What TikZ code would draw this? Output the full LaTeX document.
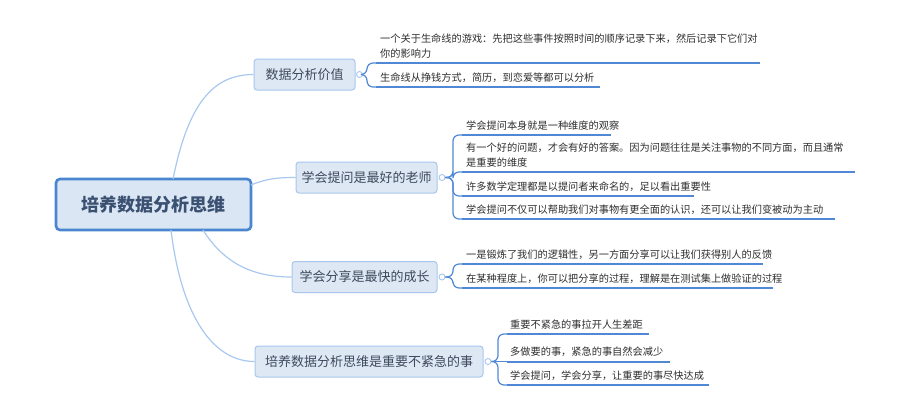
\documentclass[tikz,border=0pt]{standalone}
\usepackage{fontspec}
\newfontfamily\cjk{Noto Sans CJK SC}
\definecolor{rootline}{HTML}{4A86D0}
\definecolor{rootfill}{HTML}{DBE6F4}
\definecolor{brline}{HTML}{A8C6EC}
\definecolor{brfill}{HTML}{DEE8F5}
\definecolor{brtext}{HTML}{3E4A5C}
\definecolor{roottext}{HTML}{3B5172}
\definecolor{leafline}{HTML}{5088D6}
\definecolor{linkline}{HTML}{A9C8EF}
\definecolor{leaftext}{HTML}{2E2E2E}
\tikzset{
  rootbox/.style={draw=rootline, line width=2.6pt, fill=rootfill, rounded corners=4pt,
    minimum width=195pt, minimum height=51pt, inner sep=0pt, text=roottext,
    font=\cjk\fontsize{18}{20}\selectfont\bfseries},
  brbox/.style={draw=brline, line width=1pt, fill=brfill, rounded corners=3pt,
    minimum height=31pt, inner sep=0pt, text=brtext, font=\cjk\fontsize{13}{15}\selectfont},
  knob/.style={circle, draw=brline, fill=white, line width=0.9pt, minimum size=6pt, inner sep=0pt},
  leaf/.style={anchor=north west, inner sep=0pt, align=left, text=leaftext,
    font=\cjk\fontsize{10.2}{15}\selectfont},
  link/.style={draw=linkline, line width=1.2pt},
  bracket/.style={draw=leafline, line width=1.2pt, rounded corners=6pt},
  uline/.style={draw=leafline, line width=2pt},
}
\begin{document}
\begin{tikzpicture}[x=1pt,y=-1pt]
\useasboundingbox (0,0) rectangle (924,416);
% root and branches
\node[rootbox] (root) at (153.5,204.5) {培养数据分析思维};
\node[brbox, minimum width=101pt] (b1) at (304.5,74.5) {数据分析价值};
\node[brbox, minimum width=141pt] (b2) at (366.5,177.5) {学会提问是最好的老师};
\node[brbox, minimum width=145pt] (b3) at (364.5,277) {学会分享是最快的成长};
\node[brbox, minimum width=228pt] (b4) at (369,361.5) {培养数据分析思维是重要不紧急的事};
% root links
\coordinate (r1) at (173,179);
\coordinate (r2) at (251,185);
\coordinate (r3) at (203,230);
\coordinate (r4) at (171,230);
\draw[link] (r1) .. controls (188,105) and (212,74.5) .. (b1.west);
\draw[link] (r2) .. controls (268,178) and (280,177.5) .. (b2.west);
\draw[link] (r3) .. controls (225,265) and (255,277) .. (b3.west);
\draw[link] (r4) .. controls (182,320) and (215,361.5) .. (b4.west);
% knobs
\node[knob] (k1) at (359.5,74.5) {};
\node[knob] (k2) at (442,177.5) {};
\node[knob] (k3) at (442,277) {};
\node[knob] (k4) at (488,361.5) {};
% branch 1 leaves
\coordinate (s11) at (376,63);   \coordinate (e11) at (760,63);
\coordinate (s12) at (376,87);   \coordinate (e12) at (600,87);
\draw[bracket] (k1.east) -- (367,74.5) -- (367,63) -- (s11);
\draw[bracket] (k1.east) -- (367,74.5) -- (367,87) -- (s12);
\draw[uline] (s11) -- (e11);
\draw[uline] (s12) -- (e12);
\node[leaf] (l11) at (380,63-6-15-8.8) {一个关于生命线的游戏：先把这些事件按照时间的顺序记录下来，然后记录下它们对\\你的影响力};
\node[leaf] (l12) at (380,87-6-8.8) {生命线从挣钱方式，简历，到恋爱等都可以分析};
% branch 2 leaves
\coordinate (s21) at (462,135);  \coordinate (e21) at (611,135);
\coordinate (s22) at (462,172);  \coordinate (e22) at (855,172);
\coordinate (s23) at (462,196);  \coordinate (e23) at (694,196);
\coordinate (s24) at (462,219);  \coordinate (e24) at (835,219);
\draw[bracket] (k2.east) -- (453,177.5) -- (453,135) -- (s21);
\draw[bracket] (k2.east) -- (453,177.5) -- (453,172) -- (s22);
\draw[bracket] (k2.east) -- (453,177.5) -- (453,196) -- (s23);
\draw[bracket] (k2.east) -- (453,177.5) -- (453,219) -- (s24);
\draw[uline] (s21) -- (e21);
\draw[uline] (s22) -- (e22);
\draw[uline] (s23) -- (e23);
\draw[uline] (s24) -- (e24);
\node[leaf] (l21) at (466,135-6-8.8) {学会提问本身就是一种维度的观察};
\node[leaf] (l22) at (466,172-6-15-8.8) {有一个好的问题，才会有好的答案。因为问题往往是关注事物的不同方面，而且通常\\是重要的维度};
\node[leaf] (l23) at (466,196-6-8.8) {许多数学定理都是以提问者来命名的，足以看出重要性};
\node[leaf] (l24) at (466,219-6-8.8) {学会提问不仅可以帮助我们对事物有更全面的认识，还可以让我们变被动为主动};
% branch 3 leaves
\coordinate (s31) at (462,264);  \coordinate (e31) at (763,264);
\coordinate (s32) at (462,288);  \coordinate (e32) at (773,288);
\draw[bracket] (k3.east) -- (453,277) -- (453,264) -- (s31);
\draw[bracket] (k3.east) -- (453,277) -- (453,288) -- (s32);
\draw[uline] (s31) -- (e31);
\draw[uline] (s32) -- (e32);
\node[leaf] (l31) at (466,264-6-8.8) {一是锻炼了我们的逻辑性，另一方面分享可以让我们获得别人的反馈};
\node[leaf] (l32) at (466,288-6-8.8) {在某种程度上，你可以把分享的过程，理解是在测试集上做验证的过程};
% branch 4 leaves
\coordinate (s41) at (507,334);    \coordinate (e41) at (649,334);
\coordinate (s42) at (507,361.5);  \coordinate (e42) at (670,361.5);
\coordinate (s43) at (507,385);    \coordinate (e43) at (709,385);
\draw[bracket] (k4.east) -- (498,361.5) -- (498,334) -- (s41);
\draw[bracket] (k4.east) -- (s42);
\draw[bracket] (k4.east) -- (498,361.5) -- (498,385) -- (s43);
\draw[uline] (s41) -- (e41);
\draw[uline] (s42) -- (e42);
\draw[uline] (s43) -- (e43);
\node[leaf] (l41) at (510,334-6-8.8) {重要不紧急的事拉开人生差距};
\node[leaf] (l42) at (510,361.5-6-8.8) {多做要的事，紧急的事自然会减少};
\node[leaf] (l43) at (510,385-6-8.8) {学会提问，学会分享，让重要的事尽快达成};
\end{tikzpicture}
\end{document}
